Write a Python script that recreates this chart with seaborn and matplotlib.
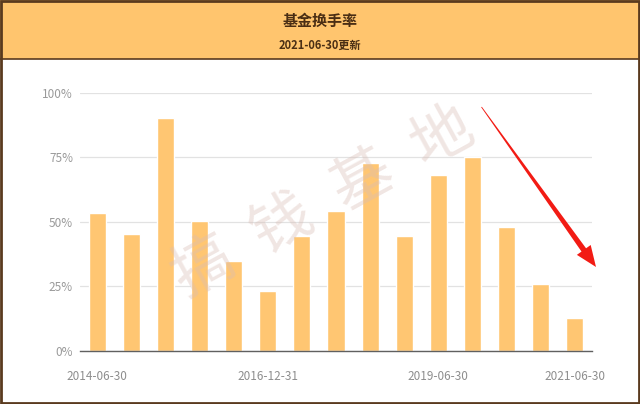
import numpy as np
import pandas as pd
import matplotlib
matplotlib.use("Agg")
import matplotlib.pyplot as plt
from matplotlib.patches import Rectangle, Polygon
import seaborn as sns

# Semiannual fund turnover ratio (fraction of fund assets)
report_dates = [
    "2014-06-30", "2014-12-31", "2015-06-30", "2015-12-31", "2016-06-30",
    "2016-12-31", "2017-06-30", "2017-12-31", "2018-06-30", "2018-12-31",
    "2019-06-30", "2019-12-31", "2020-06-30", "2020-12-31", "2021-06-30",
]
turnover = [0.533, 0.452, 0.903, 0.502, 0.347, 0.231, 0.444, 0.542, 0.727,
            0.444, 0.680, 0.750, 0.480, 0.261, 0.126]
labelled_dates = ["2014-06-30", "2016-12-31", "2019-06-30", "2021-06-30"]
y_ticks = [0, 0.25, 0.5, 0.75, 1.0]
y_tick_labels = ["0%", "25%", "50%", "75%", "100%"]

title = "基金换手率"
subtitle = "2021-06-30更新"
watermark = "搞钱基地"

sns.set_theme(style="white")
plt.rcParams["font.family"] = ["Noto Sans CJK SC", "DejaVu Sans"]

W, H = 640, 404
fig = plt.figure(figsize=(W / 100, H / 100), dpi=100)
fig.patch.set_facecolor("white")


def fx(px):
    return px / W


def fy(py):
    return 1 - py / H


# Header band
header_color = "#FFC56E"
brown = "#5A3A1E"
fig.patches.append(Rectangle((0, fy(59)), 1, 59 / H, transform=fig.transFigure,
                             facecolor=header_color, edgecolor="none", zorder=0))
fig.lines.append(plt.Line2D([0, 1], [fy(59), fy(59)], transform=fig.transFigure,
                            color=brown, lw=1.2))
fig.text(0.5, fy(21), title, ha="center", va="center", fontsize=10.8,
         fontweight="bold", color="#4A2E14")
fig.text(0.5, fy(45), subtitle, ha="center", va="center", fontsize=8,
         fontweight="bold", color="#4A2E14")

# Chart area
ax = fig.add_axes([fx(80), fy(351), fx(592) - fx(80), fy(92.7) - fy(351)])
df = pd.DataFrame({"date": report_dates, "turnover": turnover})
sns.barplot(data=df, x="date", y="turnover", color="#FFC672", saturation=1,
            width=0.5, ax=ax, zorder=2)

ax.set_xlim(-0.5, len(report_dates) - 0.5)
ax.set_ylim(0, 1.0)
ax.set_yticks(y_ticks)
ax.set_yticklabels(y_tick_labels)
tick_pos = [report_dates.index(d) for d in labelled_dates]
ax.set_xticks(tick_pos)
ax.set_xticklabels(labelled_dates)
ax.set_xlabel("")
ax.set_ylabel("")

ax.yaxis.grid(True, color="#E2E2E2", lw=0.9, zorder=0)
ax.set_axisbelow(True)
for side in ["top", "right", "left"]:
    ax.spines[side].set_visible(False)
ax.spines["bottom"].set_color("#606060")
ax.spines["bottom"].set_linewidth(1.0)
ax.tick_params(axis="y", length=0, pad=5, labelsize=8.5, labelcolor="#9A9A9A")
ax.tick_params(axis="x", length=3.5, width=0.8, color="#606060", direction="out",
               pad=10, labelsize=8.5, labelcolor="#8E8E8E")
ax.patch.set_alpha(0)

# Watermark
start = np.array([203.0, 268.0])
end = np.array([443.0, 137.0])
angle = np.degrees(np.arctan2(start[1] - end[1], end[0] - start[0]))
for i, ch in enumerate(watermark):
    p = start + (end - start) * i / (len(watermark) - 1)
    fig.text(fx(p[0]), fy(p[1]), ch, ha="center", va="center", fontsize=44,
             rotation=angle, color="#D9BDB5", alpha=0.38, zorder=5)

# Red trend arrow
tail = np.array([481.5, 107.0])
tip = np.array([596.0, 267.0])
d = (tip - tail) / np.linalg.norm(tip - tail)
n = np.array([-d[1], d[0]])
base = tip - 21 * d
pts_px = [tail + 0.4 * n, base + 2.8 * n, base + 8.5 * n, tip,
          base - 8.5 * n, base - 2.8 * n, tail - 0.4 * n]
pts = [(fx(p[0]), fy(p[1])) for p in pts_px]
fig.patches.append(Polygon(pts, closed=True, transform=fig.transFigure,
                           facecolor="#F21B14", edgecolor="none", zorder=6))

# Outer frame
fig.patches.append(Rectangle((0.0015, 0.0025), 0.997, 0.995, transform=fig.transFigure,
                             facecolor="none", edgecolor=brown, lw=2.0, zorder=10))

fig.savefig("out.png", dpi=100)
